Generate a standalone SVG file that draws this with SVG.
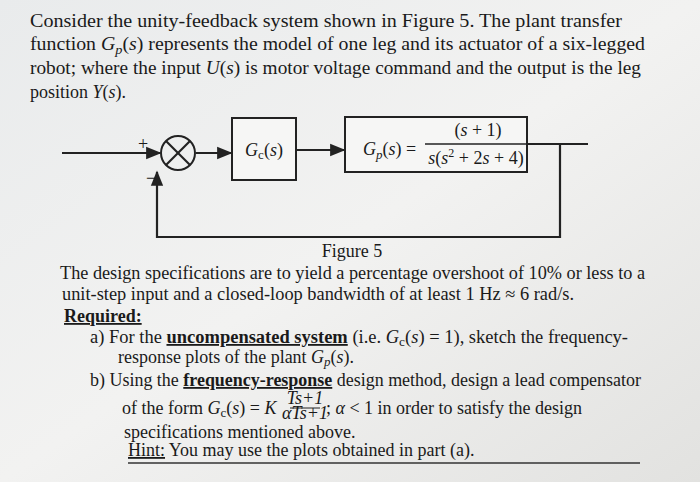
<svg xmlns="http://www.w3.org/2000/svg" width="700" height="482" viewBox="0 0 700 482">
<defs>
<linearGradient id="bg" x1="0" y1="0" x2="1" y2="1"><stop offset="0" stop-color="#e9ebec"/><stop offset="0.5" stop-color="#f2f2f1"/><stop offset="1" stop-color="#e2e2e0"/></linearGradient>
<marker id="ah" viewBox="0 0 10 10" refX="9" refY="5" markerWidth="7" markerHeight="7" orient="auto"><path d="M0,1 L10,5 L0,9 z" fill="#222"/></marker>
</defs>
<style>
text{font-family:"Liberation Serif","Times New Roman",serif;fill:#1a1a1a;font-size:18px}
.i{font-style:italic}
.b{font-weight:bold;text-decoration:underline}
.u{text-decoration:underline}
.ln{stroke:#222;stroke-width:2.2;fill:none}
.box{stroke:#222;stroke-width:2;fill:#f6f6f5}
</style>
<rect width="700" height="482" fill="url(#bg)"/>
<g id="intro">
<text x="30" y="27" textLength="592" lengthAdjust="spacingAndGlyphs">Consider the unity-feedback system shown in Figure 5. The plant transfer</text>
<text x="30" y="50" textLength="615" lengthAdjust="spacingAndGlyphs">function <tspan class="i">G</tspan><tspan class="i" font-size="13" dy="4">p</tspan><tspan dy="-4">(</tspan><tspan class="i">s</tspan>) represents the model of one leg and its actuator of a six-legged</text>
<text x="30" y="74" textLength="611" lengthAdjust="spacingAndGlyphs">robot; where the input <tspan class="i">U</tspan>(<tspan class="i">s</tspan>) is motor voltage command and the output is the leg</text>
<text x="30" y="98">position <tspan class="i">Y</tspan>(<tspan class="i">s</tspan>).</text>
</g>
<g id="connectors">
<line class="ln" x1="62" y1="153" x2="160" y2="153" marker-end="url(#ah)"/>
<line class="ln" x1="196" y1="153" x2="231" y2="153" marker-end="url(#ah)"/>
<line class="ln" x1="296" y1="150" x2="344" y2="150" marker-end="url(#ah)"/>
<line class="ln" x1="527" y1="144" x2="588" y2="144"/>
<polyline class="ln" points="560,144 560,237 157,237 157,172" marker-end="url(#ah)"/>
</g>
<g id="sum">
<circle cx="178" cy="153" r="17" fill="none" stroke="#222" stroke-width="2"/>
<line class="ln" x1="166" y1="141" x2="190" y2="165" stroke-width="1.8"/>
<line class="ln" x1="190" y1="141" x2="166" y2="165" stroke-width="1.8"/>
<text x="138" y="150" font-size="14">+</text>
<text x="146" y="184" font-size="15">−</text>
</g>
<g id="gc">
<rect class="box" x="232" y="118" width="64" height="62"/>
<text x="264" y="156" text-anchor="middle"><tspan class="i">G</tspan><tspan font-size="13" dy="3">c</tspan><tspan dy="-3">(</tspan><tspan class="i">s</tspan>)</text>
</g>
<g id="gp">
<rect class="box" x="345" y="117" width="182" height="55"/>
<text x="363" y="155"><tspan class="i">G</tspan><tspan class="i" font-size="13" dy="4">p</tspan><tspan dy="-4">(</tspan><tspan class="i">s</tspan>) =</text>
<text x="478" y="136" text-anchor="middle">(<tspan class="i">s</tspan> + 1)</text>
<line x1="425" y1="144" x2="535" y2="144" stroke="#222" stroke-width="1.3"/>
<text x="476" y="164" text-anchor="middle"><tspan class="i">s</tspan>(<tspan class="i">s</tspan><tspan font-size="12" dy="-7">2</tspan><tspan dy="7"> + 2</tspan><tspan class="i">s</tspan> + 4)</text>
</g>
<g id="body">
<text x="352" y="257" text-anchor="middle">Figure 5</text>
<text x="60" y="279" textLength="585" lengthAdjust="spacingAndGlyphs">The design specifications are to yield a percentage overshoot of 10% or less to a</text>
<text x="62" y="300" textLength="512" lengthAdjust="spacingAndGlyphs">unit-step input and a closed-loop bandwidth of at least 1 Hz ≈ 6 rad/s.</text>
<text x="64" y="322" class="b">Required:</text>
<text x="90" y="343" textLength="538" lengthAdjust="spacingAndGlyphs">a) For the <tspan class="b">uncompensated system</tspan> (i.e. <tspan class="i">G</tspan><tspan font-size="13" dy="3">c</tspan><tspan dy="-3">(</tspan><tspan class="i">s</tspan>) = 1), sketch the frequency-</text>
<text x="118" y="363" textLength="236" lengthAdjust="spacingAndGlyphs">response plots of the plant <tspan class="i">G</tspan><tspan class="i" font-size="13" dy="3">p</tspan><tspan dy="-3">(</tspan><tspan class="i">s</tspan>).</text>
<text x="90" y="386" textLength="551" lengthAdjust="spacingAndGlyphs">b) Using the <tspan class="b">frequency-response</tspan> design method, design a lead compensator</text>
<text x="122" y="414">of the form <tspan class="i">G</tspan><tspan font-size="13" dy="3">c</tspan><tspan dy="-3">(</tspan><tspan class="i">s</tspan>) = <tspan class="i">K</tspan></text>
<text x="305" y="404" font-size="11" class="i" text-anchor="middle">Ts+1</text>
<line x1="290" y1="408" x2="320" y2="408" stroke="#222" stroke-width="1"/>
<text x="305" y="419" font-size="11" class="i" text-anchor="middle">αTs+1</text>
<text x="326" y="414">; <tspan class="i">α</tspan> &lt; 1 in order to satisfy the design</text>
<text x="124" y="438">specifications mentioned above.</text>
<text x="128" y="456"><tspan class="u">Hint:</tspan> You may use the plots obtained in part (a).</text>
<line x1="128" y1="463" x2="640" y2="463" stroke="#333" stroke-width="1.5"/>
</g>
</svg>
